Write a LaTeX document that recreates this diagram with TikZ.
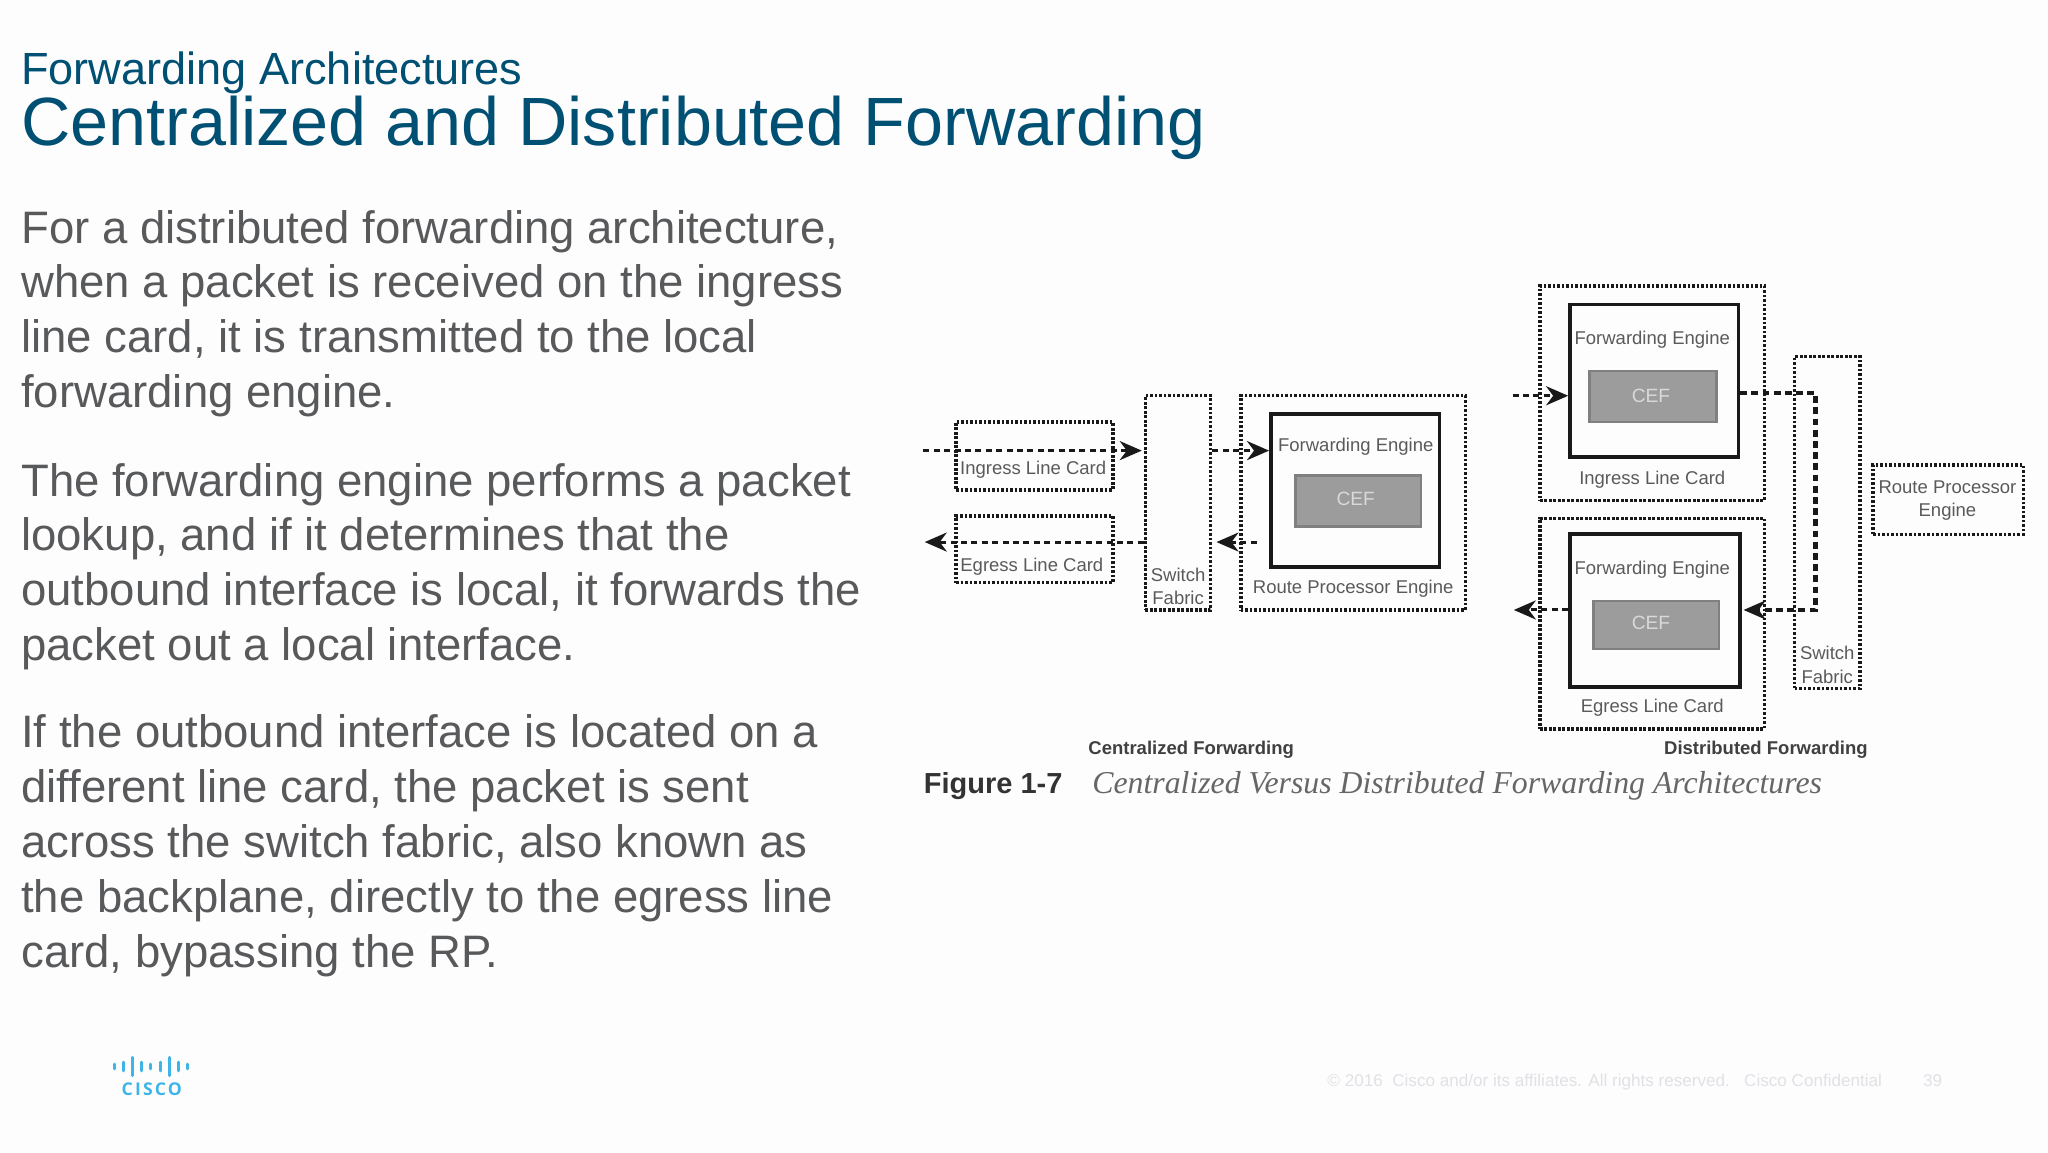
\documentclass[tikz,border=0pt]{standalone}
\usepackage{fontspec}
\setmainfont{Liberation Sans}
\newfontfamily\serifit[ItalicFont=Liberation Serif Italic]{Liberation Serif}
\newfontfamily\logofont[LetterSpace=12]{Open Sans}
\usetikzlibrary{arrows.meta}
\definecolor{titleblue}{HTML}{005073}
\definecolor{bodygrey}{HTML}{58595B}
\definecolor{diaggrey}{HTML}{5A5A5A}
\definecolor{cefgrey}{HTML}{9C9C9C}
\definecolor{cefedge}{HTML}{808080}
\definecolor{logoblue}{HTML}{3DB5E6}
\definecolor{footgrey}{HTML}{E2E0E4}
\definecolor{paper}{HTML}{FEFDFE}
\newcommand{\fsz}[2]{\fontsize{#1}{#2}\selectfont}
\tikzset{
  dotbox/.style={draw=black!90,line width=1.7pt,dash pattern=on 1.3pt off 0.95pt,inner sep=0pt},
  solidbox/.style={draw=black!90,line width=1.8pt,inner sep=0pt},
  cefbox/.style={draw=cefedge,fill=cefgrey,line width=1.3pt,inner sep=0pt},
  ceftext/.style={inner sep=0pt,text=black!15,font=\fsz{9.6}{12}},
  lbl/.style={inner sep=0pt,text=diaggrey,font=\fsz{9.25}{11.6},align=center},
  flow/.style={draw=black!90,line width=1.5pt,dash pattern=on 3pt off 2.2pt,-{Stealth[length=11pt,width=9.5pt,inset=3.5pt]}},
  flowb/.style={flow,line width=2.1pt,dash pattern=on 3.4pt off 2.2pt},
  body/.style={anchor=north west,inner sep=0pt,text=bodygrey,align=left,font=\fsz{22.75}{27.4}},
  capt/.style={inner sep=0pt,text=black!75,font=\bfseries\fsz{9.25}{10}},
  logobar/.style={line width=1.5pt,line cap=round,draw=logoblue},
  foot/.style={inner sep=0pt,anchor=base west,text=footgrey,font=\fsz{8.55}{9}}
}
\newcommand{\bx}[6]{% style, name, x1,y1,x2,y2
  \pgfmathsetmacro{\bxcx}{(#3+#5)/2}\pgfmathsetmacro{\bxcy}{(#4+#6)/2}
  \pgfmathsetmacro{\bxw}{(#5-#3)*0.65306}\pgfmathsetmacro{\bxh}{(#6-#4)*0.65306}
  \node[#1,minimum width=\bxw pt,minimum height=\bxh pt] (#2) at (\bxcx,\bxcy) {};
}
\begin{document}
\begin{tikzpicture}[x=0.65306pt,y=-0.65306pt]
\useasboundingbox (0,0) rectangle (1568,882);
\fill[paper] (0,0) rectangle (1568,882);
% titles
\node[anchor=base west,inner sep=0pt,text=titleblue,font=\fsz{22.55}{26}] (kicker) at (16,64.5) {Forwarding Architectures};
\node[anchor=base west,inner sep=0pt,text=titleblue,font=\fsz{34.15}{38}] (title) at (16,111.5) {Centralized and Distributed Forwarding};
% body
\node[body] (p1) at (16,160.5) {For a distributed forwarding architecture,\\when a packet is received on the ingress\\line card, it is transmitted to the local\\forwarding engine.};
\node[body] (p2) at (16,354.3) {The forwarding engine performs a packet\\lookup, and if it determines that the\\outbound interface is local, it forwards the\\packet out a local interface.};
\node[body] (p3) at (16,547) {If the outbound interface is located on a\\different line card, the packet is sent\\across the switch fabric, also known as\\the backplane, directly to the egress line\\card, bypassing the RP.};
% centralized boxes
\bx{dotbox}{cilc}{732}{323}{852}{375}{}
\bx{dotbox}{celc}{732}{395}{852}{446}{}
\bx{dotbox}{csf}{877}{303}{927}{467}{}
\bx{dotbox}{crp}{950}{303}{1122}{467}{}
\bx{solidbox}{cfe}{973}{317}{1102}{434}{}
\bx{cefbox}{ccef}{992}{364}{1088}{403}{}
\node[ceftext] (ccefl) at (1038,382) {CEF};
\node[lbl] (t1) at (791,360) {Ingress Line Card};
\node[lbl] (t2) at (790,434) {Egress Line Card};
\node[lbl] (t3) at (902,449) {Switch\\Fabric};
\node[lbl] (t4) at (1038,342) {Forwarding Engine};
\node[lbl] (t5) at (1036,451) {Route Processor Engine};
% distributed boxes
\bx{dotbox}{dilc}{1179}{219}{1351}{383}{}
\bx{solidbox}{dfe1}{1202}{233}{1331}{350}{}
\bx{cefbox}{dcef1}{1217}{284}{1314}{323}{}
\node[ceftext] (dcefl1) at (1264,303) {CEF};
\bx{dotbox}{delc}{1179}{397}{1351}{558}{}
\bx{solidbox}{dfe2}{1202}{409}{1332}{526}{}
\bx{cefbox}{dcef2}{1220}{460}{1316}{497}{}
\node[ceftext] (dcefl2) at (1264,477) {CEF};
\bx{dotbox}{dsf}{1374}{273}{1424}{527}{}
\bx{dotbox}{drp}{1434}{356}{1549}{409}{}
\node[lbl] (t6) at (1265,260) {Forwarding Engine};
\node[lbl] (t7) at (1265,367) {Ingress Line Card};
\node[lbl] (t8) at (1265,436.5) {Forwarding Engine};
\node[lbl] (t9) at (1265,542) {Egress Line Card};
\node[lbl] (t10) at (1399,509) {Switch\\Fabric};
\node[lbl] (t11) at (1491,383.5) {Route Processor\\Engine};
% captions
\node[capt] (c1) at (912,574) {Centralized Forwarding};
\node[capt] (c2) at (1352,574) {Distributed Forwarding};
\node[anchor=west,inner sep=0pt,text=black!80,font=\bfseries\fsz{14.5}{16}] (fig) at (707,601.5) {Figure 1-7};
\node[anchor=west,inner sep=0pt,text=black!60,font=\serifit\itshape\fsz{15.9}{18}] (figt) at (836,602) {Centralized Versus Distributed Forwarding Architectures};
% connectors, centralized
\coordinate (a0) at (707,345); \coordinate (a1) at ([xshift=-1pt]csf.west |- a0);
\draw[flow] (a0) -- (a1);
\coordinate (a2) at (csf.east |- a0); \coordinate (a3) at (cfe.west |- a0);
\draw[flow] (a2) -- (a3);
\coordinate (b0) at (962,415); \coordinate (b1) at ([xshift=2pt]csf.east |- b0);
\draw[flow] (b0) -- (b1);
\coordinate (b2) at (csf.west |- b0); \coordinate (b3) at (708,415);
\draw[flow] (b2) -- (b3);
% connectors, distributed
\coordinate (d0) at (1158,303); \coordinate (d1) at (dfe1.west |- d0);
\draw[flow] (d0) -- (d1);
\coordinate (e1) at (1390,301); \coordinate (e0) at (dfe1.east |- e1); \coordinate (e2) at (1390,467); \coordinate (e3) at ([xshift=1pt]dfe2.east |- e2);
\draw[flowb] (e0) -- (e1) -- (e2) -- (e3);
\coordinate (g0) at (dfe2.west |- e2); \coordinate (g1) at (1159,467);
\draw[flow] (g0) -- (g1);
% logo
\foreach \i/\xx/\hh in {1/87.5/1.8,2/94.5/3.4,3/101.6/7,4/108.6/3.4,5/115.6/1.8,6/122.6/3.4,7/129.7/7,8/136.7/3.4,9/143.7/1.8}{
  \coordinate (lg\i) at (\xx,816.5);
  \draw[logobar] ([yshift=\hh*0.65306pt]lg\i) -- ([yshift=-\hh*0.65306pt]lg\i);
}
\node[inner sep=0pt,text=logoblue,font=\logofont\bfseries\fsz{8.8}{11}] (logo) at (116.2,834) {CISCO};
% footer
\node[foot] (f1) at (1016,831.5) {© 2016\ \ Cisco and/or its affiliates. All rights reserved.\ \ \ Cisco Confidential};
\node[foot] (f2) at (1472,831.5) {39};
\end{tikzpicture}
\end{document}
